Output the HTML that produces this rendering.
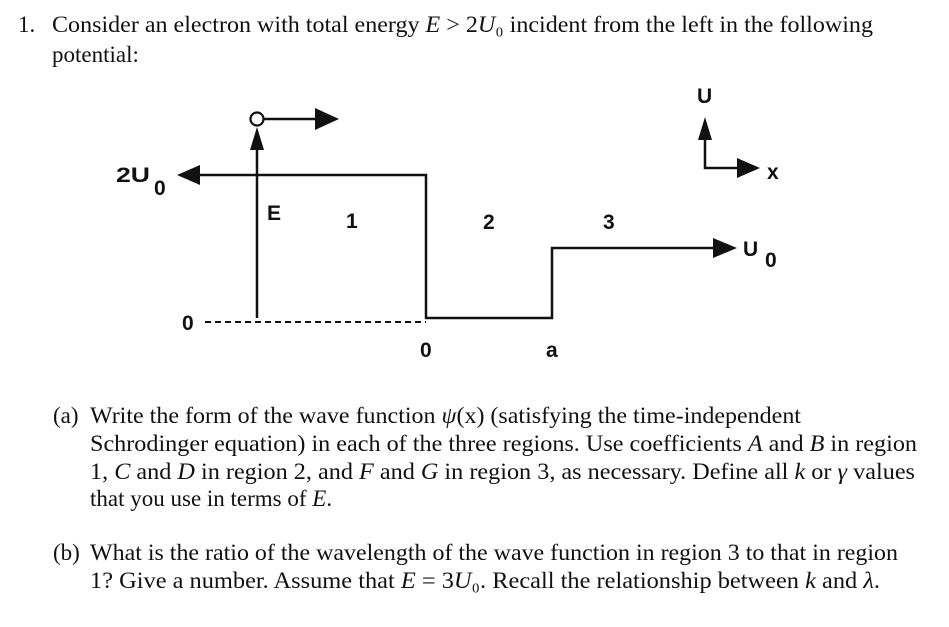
<!DOCTYPE html>
<html><head><meta charset="utf-8"><style>
html,body{margin:0;padding:0;background:#fff;}
svg{display:block;}
.t{font-family:"Liberation Serif",serif;font-size:23px;fill:#111;}
.s{font-family:"Liberation Sans",sans-serif;font-weight:bold;font-size:21px;fill:#111;}
</style></head><body>
<svg width="949" height="627" viewBox="0 0 949 627" xmlns="http://www.w3.org/2000/svg">
<text class="t" x="18" y="32">1.</text>
<text class="t" x="52" y="32" textLength="821" lengthAdjust="spacingAndGlyphs">Consider an electron with total energy <tspan font-style="italic">E</tspan> &gt; 2<tspan font-style="italic">U</tspan>₀ incident from the left in the following</text>
<text class="t" x="52" y="62">potential:</text>

<g stroke="#111" stroke-width="2.5" fill="none">
<polyline points="196,175 426,175 426,318 552,318 552,248 715,248"/>
<line x1="257" y1="318" x2="257" y2="148"/>
<line x1="264" y1="119" x2="316" y2="119"/>
<line x1="205" y1="322" x2="426" y2="322" stroke-dasharray="6,4" stroke-width="2"/>
<polyline points="705,140 705,168 739,168"/>
</g>
<circle cx="257" cy="119" r="6.5" fill="#fff" stroke="#111" stroke-width="2.2"/>
<g fill="#111">
<polygon points="177,175 200,165 200,185"/>
<polygon points="257,127 250,150 264,150"/>
<polygon points="339,119 315,108 315,130"/>
<polygon points="737,248 713,238 713,258"/>
<polygon points="705,117 698,140 712,140"/>
<polygon points="760,168 737,158 737,178"/>
</g>
<text class="s" x="116" y="182" textLength="34" lengthAdjust="spacingAndGlyphs">2U</text><text class="s" x="154" y="195" font-size="17">0</text>
<text class="s" x="267" y="220">E</text>
<text class="s" x="346" y="228">1</text>
<text class="s" x="483" y="229">2</text>
<text class="s" x="603" y="229">3</text>
<text class="s" x="182" y="330">0</text>
<text class="s" x="420" y="357">0</text>
<text class="s" x="546" y="357">a</text>
<text class="s" x="697" y="103">U</text>
<text class="s" x="767" y="179">x</text>
<text class="s" x="743" y="256">U</text><text class="s" x="765" y="267" font-size="17">0</text>

<text class="t" x="53" y="423">(a)</text>
<text class="t" x="90" y="423" textLength="711" lengthAdjust="spacingAndGlyphs">Write the form of the wave function <tspan font-style="italic">ψ</tspan>(x) (satisfying the time-independent</text>
<text class="t" x="90" y="451" textLength="827" lengthAdjust="spacingAndGlyphs">Schrodinger equation) in each of the three regions.  Use coefficients <tspan font-style="italic">A</tspan> and <tspan font-style="italic">B</tspan> in region</text>
<text class="t" x="90" y="479" textLength="825" lengthAdjust="spacingAndGlyphs">1, <tspan font-style="italic">C</tspan> and <tspan font-style="italic">D</tspan> in region 2, and <tspan font-style="italic">F</tspan> and <tspan font-style="italic">G</tspan> in region 3, as necessary.  Define all <tspan font-style="italic">k</tspan> or <tspan font-style="italic">γ</tspan> values</text>
<text class="t" x="90" y="506">that you use in terms of <tspan font-style="italic">E</tspan>.</text>

<text class="t" x="53" y="560">(b)</text>
<text class="t" x="90" y="560" textLength="808" lengthAdjust="spacingAndGlyphs">What is the ratio of the wavelength of the wave function in region 3 to that in region</text>
<text class="t" x="90" y="588" textLength="790" lengthAdjust="spacingAndGlyphs">1?  Give a number.  Assume that <tspan font-style="italic">E</tspan> = 3<tspan font-style="italic">U</tspan>₀. Recall the relationship between <tspan font-style="italic">k</tspan> and <tspan font-style="italic">λ</tspan>.</text>
</svg>
</body></html>
